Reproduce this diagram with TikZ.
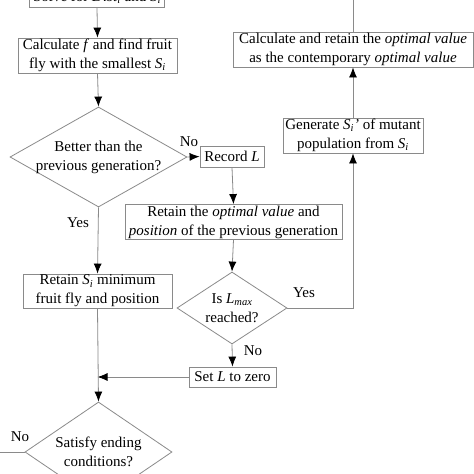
\documentclass[tikz,border=0pt]{standalone}
\usepackage{fontspec}
\setmainfont{Liberation Serif}
\usetikzlibrary{arrows.meta,shapes.geometric}
\definecolor{lc}{HTML}{8A8A8A}
\tikzset{
  box/.style={draw=lc, line width=0.8pt, rectangle, inner sep=0pt, align=center, font=\fontsize{15}{19}\selectfont},
  dia/.style={draw=lc, line width=0.8pt, diamond, inner sep=0pt},
  txt/.style={align=center, inner sep=0pt, font=\fontsize{15}{19}\selectfont},
  lab/.style={inner sep=0pt, font=\fontsize{15}{18}\selectfont},
  conn/.style={draw=lc, line width=0.8pt},
  arr/.style={conn, -{Latex[black,length=10pt,width=8pt]}},
}
\newcommand{\Si}{\textit{S}\textsubscript{\textit{i}}}
\begin{document}
\begin{tikzpicture}[x=1pt,y=-1pt]
\useasboundingbox (0,0) rectangle (474,474);
\fill[white] (0,0) rectangle (474,474);
% nodes
\node[box, minimum width=135, minimum height=20] (b0) at (97,-3) {Solve for \textit{Dist}\textsubscript{\textit{i}} and \Si};
\node[box, minimum width=159, minimum height=35] (b1) at (97.5,55.5) {Calculate \textit{f} and find fruit\\fly with the smallest \Si};
\node[dia, minimum width=177, minimum height=100] (d1) at (98.5,157) {};
\node[txt] (t1) at (d1) {Better than the\\previous generation?};
\node[box, minimum width=64, minimum height=21] (rec) at (232,156.5) {Record \textit{L}};
\node[box, minimum width=217, minimum height=35] (ret) at (233.5,222) {Retain the \textit{optimal value} and\\\textit{position} of the previous generation};
\node[dia, minimum width=110, minimum height=72] (d2) at (232,308) {};
\node[txt] (t2) at (d2) {Is \textit{L}\textsubscript{\textit{max}}\\reached?};
\node[box, minimum width=87, minimum height=20] (setl) at (232.5,377) {Set \textit{L} to zero};
\node[box, minimum width=149, minimum height=34] (rs) at (97.5,291) {Retain \Si{} minimum\\fruit fly and position};
\node[dia, minimum width=147, minimum height=100] (d3) at (98.5,452) {};
\node[txt] (t3) at (d3) {Satisfy ending\\conditions?};
\node[box, minimum width=140, minimum height=35] (gen) at (353,135.5) {Generate \Si\textit{'} of mutant\\population from \Si};
\node[box, minimum width=240, minimum height=35] (cr) at (353,49.5) {Calculate and retain the \textit{optimal value}\\as the contemporary \textit{optimal value}};
\coordinate (top) at (353,-10);
\coordinate (offl) at (-5,452);
\coordinate (corner) at (353,308);
\coordinate (join) at (97.5,377);
% connectors
\draw[arr] (b0.south) -- (b1.north);
\draw[arr] (b1.south) -- (d1.north);
\draw[arr] (d1.east) -- (rec.west);
\node[lab] (no1) at (189,142) {No};
\draw[arr] (rec.south) -- (ret.north);
\draw[arr] (ret.south) -- (d2.north);
\draw[arr] (d2.east) -- (corner) -- (gen.south);
\node[lab] (yes2) at (304,293) {Yes};
\draw[arr] (d2.south) -- (setl.north);
\node[lab] (no2) at (253,351) {No};
\draw[arr] (setl.west) -- (join);
\draw[arr] (d1.south) -- (rs.north);
\node[lab] (yes1) at (78,223) {Yes};
\draw[arr] (rs.south) -- (d3.north);
\draw[conn] (d3.west) -- (offl);
\node[lab] (no3) at (20,437) {No};
\draw[arr] (gen.north) -- (cr.south);
\draw[conn] (cr.north) -- (top);
\end{tikzpicture}
\end{document}
